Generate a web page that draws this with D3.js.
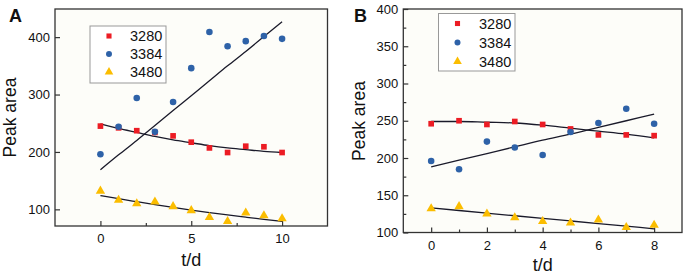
<!DOCTYPE html>
<html>
<head>
<meta charset="utf-8">
<script src="https://cdn.jsdelivr.net/npm/d3@7"></script>
<style>
  body { margin: 0; background: #fff; }
  text { font-family: Arial, "Liberation Sans", sans-serif; fill: #111; }
</style>
</head>
<body>
<div id="chart"></div>
<script>
var seriesNames = ["3280", "3384", "3480"];
var colors = ["#ec1c24", "#2e62a8", "#fbbd00"];

// panel A, t = 0..10
var daysA = [0, 1, 2, 3, 4, 5, 6, 7, 8, 9, 10];
var a3280 = [245, 242, 237, 234, 228, 217, 207, 199, 210, 209, 199];
var a3384 = [196, 244, 294, 235, 287, 346, 409, 384, 393, 402, 397];
var a3480 = [132, 116, 110, 113, 105, 98, 86, 79, 94, 89, 84];
// fitted curves
var fitA3280 = [249, 241, 234, 227, 221, 216, 211, 207, 204, 201, 199];
var fitA3384 = [169, 195, 220, 246, 272, 298, 324, 350, 375, 401, 427];
var fitA3480 = [124, 118.5, 113.3, 108.2, 103.4, 98.8, 94.4, 90.2, 86.3, 82.5, 79];

// panel B, t = 0..8
var daysB = [0, 1, 2, 3, 4, 5, 6, 7, 8];
var b3280 = [246, 250, 245, 249, 245, 239, 231, 231, 230];
var b3384 = [196, 185, 222, 214, 204, 235, 247, 266, 246];
var b3480 = [132, 135, 125, 120, 115, 113, 117, 107, 110];
var fitB3280 = [249, 249, 248, 247, 244, 240, 236, 232, 227];
var fitB3384 = [188, 197, 206, 215, 224, 232, 241, 250, 259];
var fitB3480 = [133, 129.5, 126, 122.5, 119, 115.5, 112, 108.5, 105];

var svg = d3.select("#chart").append("svg")
    .attr("width", 685)
    .attr("height", 275);

function drawPanel(p) {
    var x = d3.scaleLinear().domain(p.xDomain).range([p.left, p.right]);
    var y = d3.scaleLinear().domain(p.yDomain).range([p.bottom, p.top]);
    var g = svg.append("g");

    g.append("rect")
        .attr("x", p.left).attr("y", p.top)
        .attr("width", p.right - p.left).attr("height", p.bottom - p.top)
        .style("fill", "#fdfdf9")
        .style("stroke", "#333")
        .style("stroke-width", 1.3);

    // ticks point inward
    g.append("g")
        .attr("transform", "translate(0," + p.bottom + ")")
        .call(d3.axisTop(x).tickValues(p.xMinor).tickSize(3).tickFormat(""))
        .call(function(s) { s.select(".domain").remove(); });
    var xa = g.append("g")
        .attr("transform", "translate(0," + p.bottom + ")")
        .call(d3.axisTop(x).tickValues(p.xTicks).tickSize(5));
    xa.select(".domain").remove();
    xa.selectAll("text").style("font-size", "13px").attr("dy", "0.71em").attr("y", 8);

    if (p.yMinor.length) {
        g.append("g")
            .attr("transform", "translate(" + p.left + ",0)")
            .call(d3.axisRight(y).tickValues(p.yMinor).tickSize(3).tickFormat(""))
            .call(function(s) { s.select(".domain").remove(); });
    }
    var ya = g.append("g")
        .attr("transform", "translate(" + p.left + ",0)")
        .call(d3.axisRight(y).tickValues(p.yTicks).tickSize(5));
    ya.select(".domain").remove();
    ya.selectAll("text").style("font-size", "13px")
        .attr("x", -5).style("text-anchor", "end");
    g.selectAll(".tick line").style("stroke", "#333").style("stroke-width", 1.2);

    // fit curves
    var line = d3.line()
        .x(function(d) { return x(d[0]); })
        .y(function(d) { return y(d[1]); })
        .curve(d3.curveMonotoneX);
    p.fits.forEach(function(f) {
        g.append("path")
            .datum(p.days.map(function(t, i) { return [t, f[i]]; }))
            .attr("d", line)
            .style("fill", "none")
            .style("stroke", "#1a1a2a")
            .style("stroke-width", 1.3);
    });

    // points
    var shapes = [d3.symbolSquare, d3.symbolCircle, d3.symbolTriangle];
    var sizes = [32, 34, 38];
    p.series.forEach(function(vals, k) {
        g.selectAll(null)
            .data(vals)
            .enter()
            .append("path")
            .attr("d", d3.symbol().type(shapes[k]).size(sizes[k]))
            .attr("transform", function(d, i) {
                return "translate(" + x(p.days[i]) + "," + y(d) + ")";
            })
            .style("fill", colors[k]);
    });

    // legend
    var lg = g.append("g");
    lg.append("rect")
        .attr("x", p.legend.x).attr("y", p.legend.y)
        .attr("width", p.legend.w).attr("height", p.legend.h)
        .style("fill", "#fff")
        .style("stroke", "#999")
        .style("stroke-width", 1);
    seriesNames.forEach(function(name, k) {
        var cy = p.legend.y + p.legend.first + k * p.legend.step;
        lg.append("path")
            .attr("d", d3.symbol().type(shapes[k]).size(sizes[k] - 6))
            .attr("transform", "translate(" + p.legend.sx + "," + cy + ")")
            .style("fill", colors[k]);
        lg.append("text")
            .attr("x", p.legend.tx).attr("y", cy)
            .attr("dy", "0.36em")
            .style("font-size", "14.5px")
            .text(name);
    });

    // axis titles
    g.append("text")
        .attr("x", (p.left + p.right) / 2)
        .attr("y", p.bottom + p.xTitleGap)
        .style("text-anchor", "middle")
        .style("font-size", "18px")
        .text("t/d");
    g.append("text")
        .attr("transform", "translate(" + p.yTitleX + "," + p.yTitleY + ") rotate(-90)")
        .style("text-anchor", "middle")
        .style("font-size", "17.5px")
        .text("Peak area");

    g.append("text")
        .attr("x", p.tag.x).attr("y", p.tag.y)
        .style("font-size", "18px")
        .style("font-weight", "bold")
        .text(p.tag.label);
}

drawPanel({
    left: 55, right: 327.5, top: 9, bottom: 226,
    xDomain: [-2.5, 12.5], yDomain: [71, 449],
    xTicks: [0, 5, 10], xMinor: [2.5, 7.5],
    yTicks: [100, 200, 300, 400], yMinor: [],
    days: daysA,
    series: [a3280, a3384, a3480],
    fits: [fitA3280, fitA3384, fitA3480],
    legend: { x: 90, y: 26, w: 76, h: 57, first: 10, step: 18, sx: 109, tx: 130 },
    xTitleGap: 40, yTitleX: 15.5, yTitleY: 117.5,
    tag: { x: 9, y: 22, label: "A" }
});

drawPanel({
    left: 403.3, right: 682, top: 9, bottom: 232.5,
    xDomain: [-1, 9], yDomain: [100, 400],
    xTicks: [0, 2, 4, 6, 8], xMinor: [1, 3, 5, 7],
    yTicks: [100, 150, 200, 250, 300, 350, 400], yMinor: [125, 175, 225, 275, 325, 375],
    days: daysB,
    series: [b3280, b3384, b3480],
    fits: [fitB3280, fitB3384, fitB3480],
    legend: { x: 438.5, y: 13.5, w: 76.5, h: 57.5, first: 10, step: 19, sx: 457.5, tx: 479 },
    xTitleGap: 38, yTitleX: 365, yTitleY: 121,
    tag: { x: 354, y: 22, label: "B" }
});
</script>
</body>
</html>
